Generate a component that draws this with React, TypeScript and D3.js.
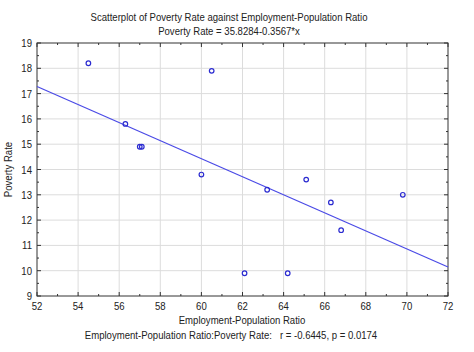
import React, { useEffect, useRef } from "react";
import * as d3 from "d3";

// employment-population ratio vs poverty rate
const employment = [54.5, 60.5, 56.3, 57.0, 57.1, 60.0, 63.2, 65.1, 66.3, 66.8, 69.8, 62.1, 64.2];
const poverty = [18.2, 17.9, 15.8, 14.9, 14.9, 13.8, 13.2, 13.6, 12.7, 11.6, 13.0, 9.9, 9.9];
const xTicks = [52, 54, 56, 58, 60, 62, 64, 66, 68, 70, 72];
const yTicks = [9, 10, 11, 12, 13, 14, 15, 16, 17, 18, 19];
const intercept = 35.8284;
const slope = -0.3567;

export default function App() {
  const svgRef = useRef<SVGSVGElement>(null);
  const width = 474;
  const height = 352;
  const margin = { left: 37, right: 26, top: 43, bottom: 56 };

  useEffect(() => {
    const svg = d3.select(svgRef.current);
    svg.selectAll("*").remove();
    const font = "'Liberation Sans', Arial, sans-serif";
    const squeeze = 0.855;

    const x = d3.scaleLinear().domain([52, 72]).range([margin.left, width - margin.right]);
    const y = d3.scaleLinear().domain([9, 19]).range([height - margin.bottom, margin.top]);

    svg.append("rect").attr("width", width).attr("height", height).attr("fill", "#fff");

    // grid
    const grid = svg.append("g").attr("stroke", "#dcdcdc").attr("stroke-width", 1);
    grid.selectAll("line.v")
      .data(xTicks.slice(1, -1))
      .enter()
      .append("line")
      .attr("x1", (d) => x(d))
      .attr("x2", (d) => x(d))
      .attr("y1", y(9))
      .attr("y2", y(19));
    grid.selectAll("line.h")
      .data(yTicks.slice(1, -1))
      .enter()
      .append("line")
      .attr("x1", x(52))
      .attr("x2", x(72))
      .attr("y1", (d) => y(d))
      .attr("y2", (d) => y(d));

    // axes with inward ticks on all sides
    const xMinor = d3.range(52, 72.01, 1);
    const yMinor = d3.range(9, 19.01, 0.5);
    const frame = svg.append("g").attr("stroke", "#333").attr("stroke-width", 1);
    const sides = [
      { ticks: xMinor, pos: (d) => x(d), base: y(9), dir: -1, horiz: true },
      { ticks: xMinor, pos: (d) => x(d), base: y(19), dir: 1, horiz: true },
      { ticks: yMinor, pos: (d) => y(d), base: x(52), dir: 1, horiz: false },
      { ticks: yMinor, pos: (d) => y(d), base: x(72), dir: -1, horiz: false },
    ];
    sides.forEach((s) => {
      frame.selectAll(null)
        .data(s.ticks)
        .enter()
        .append("line")
        .each(function (d, i) {
          const len = i % 2 === 0 ? 4 : 2;
          const p = s.pos(d);
          const sel = d3.select(this);
          if (s.horiz) {
            sel.attr("x1", p).attr("x2", p).attr("y1", s.base).attr("y2", s.base + s.dir * len);
          } else {
            sel.attr("y1", p).attr("y2", p).attr("x1", s.base).attr("x2", s.base + s.dir * len);
          }
        });
    });
    frame.append("rect")
      .attr("x", x(52))
      .attr("y", y(19))
      .attr("width", x(72) - x(52))
      .attr("height", y(9) - y(19))
      .attr("fill", "none");

    // text helper, condensed like the original rendering
    const txt = (tx, ty, s, anchor = "middle", rot = 0) =>
      svg.append("g")
        .attr("transform", `translate(${tx},${ty}) rotate(${rot}) scale(${squeeze},1)`)
        .append("text")
        .attr("text-anchor", anchor)
        .attr("font-family", font)
        .attr("font-size", 11.2)
        .attr("fill", "#222")
        .style("white-space", "pre")
        .text(s);

    // tick labels
    xTicks.forEach((d) => txt(x(d), y(9) + 14, String(d)));
    yTicks.forEach((d) => txt(x(52) - 5, y(d) + 4, String(d), "end"));

    // regression line
    svg.append("line")
      .attr("x1", x(52))
      .attr("y1", y(intercept + slope * 52))
      .attr("x2", x(72))
      .attr("y2", y(intercept + slope * 72))
      .attr("stroke", "#4a4ae6")
      .attr("stroke-width", 1.2);

    // points
    svg.append("g")
      .selectAll("circle")
      .data(employment)
      .enter()
      .append("circle")
      .attr("cx", (d) => x(d))
      .attr("cy", (d, i) => y(poverty[i]))
      .attr("r", 2.3)
      .attr("fill", "none")
      .attr("stroke", "#2b2bd0")
      .attr("stroke-width", 1.2);

    // titles
    txt(229, 21, "Scatterplot of Poverty Rate against Employment-Population Ratio");
    txt(229, 34.5, "Poverty Rate = 35.8284-0.3567*x");
    txt(242, 324, "Employment-Population Ratio");
    txt(231, 339, "Employment-Population Ratio:Poverty Rate:   r = -0.6445, p = 0.0174");
    txt(12, (y(9) + y(19)) / 2, "Poverty Rate", "middle", -90);
  }, []);

  return (
    <svg
      ref={svgRef}
      width={width}
      height={height}
      style={{ position: "absolute", left: 0, top: 0 }}
    ></svg>
  );
}
